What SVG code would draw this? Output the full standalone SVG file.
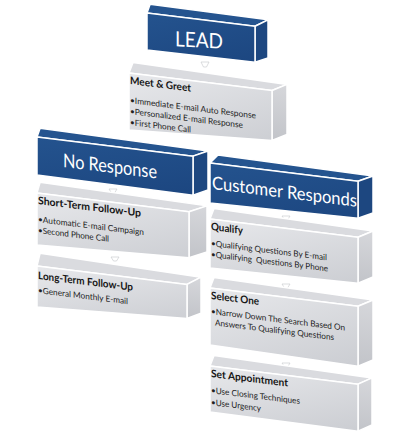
<svg xmlns="http://www.w3.org/2000/svg" width="400" height="440" viewBox="0 0 400 440">
<defs>
<linearGradient id="gg" x1="0" y1="0" x2="1" y2="1">
<stop offset="0" stop-color="#e7e8eb"/>
<stop offset="1" stop-color="#cbcdd2"/>
</linearGradient>
<linearGradient id="gs" x1="0" y1="0" x2="0" y2="1">
<stop offset="0" stop-color="#d6d7db"/>
<stop offset="1" stop-color="#c2c4c9"/>
</linearGradient>
<linearGradient id="bg" x1="0" y1="0" x2="1" y2="1">
<stop offset="0" stop-color="#24538e"/>
<stop offset="1" stop-color="#1c4680"/>
</linearGradient>
</defs>
<style>
.bf{fill:url(#bg);stroke:#fff;stroke-width:1.5;stroke-linejoin:round}
.bt{fill:#25548f;stroke:#fff;stroke-width:1.5;stroke-linejoin:round}
.bs{fill:#1d4780;stroke:#fff;stroke-width:1.5;stroke-linejoin:round}
.gf{fill:url(#gg);stroke:#fff;stroke-width:1.5;stroke-linejoin:round}
.gt{fill:#dadbdf;stroke:#fff;stroke-width:1.5;stroke-linejoin:round}
.gsd{fill:url(#gs);stroke:#fff;stroke-width:1.5;stroke-linejoin:round}
.h{font-family:Lato,"Open Sans","Liberation Sans",sans-serif;font-weight:bold;font-size:10.5px;fill:#151515}
.b{font-family:Lato,"Open Sans","Liberation Sans",sans-serif;font-size:8.5px;fill:#222}
.w{font-family:Lato,"Open Sans","Liberation Sans",sans-serif;fill:#fff}
.notch{fill:#fff;stroke:#c4c6ca;stroke-width:0.6}
</style>

<g id="connectors">
<g transform="translate(205,65)"><path class="notch" d="M-4,-3 h8 l-2.5,5 h-3 z"/></g>
<g transform="translate(113,191)"><path class="notch" d="M-4,-2 h8 l-2.5,4 h-3 z"/></g>
<g transform="translate(115,259)"><path class="notch" d="M-4,-2 h8 l-2.5,4 h-3 z"/></g>
<g transform="translate(286,218)"><path class="notch" d="M-4,-2 h8 l-2.5,4 h-3 z"/></g>
<g transform="translate(286,286)"><path class="notch" d="M-4,-2 h8 l-2.5,4 h-3 z"/></g>
<g transform="translate(286,365)"><path class="notch" d="M-4,-2 h8 l-2.5,4 h-3 z"/></g>
</g>

<g id="meet-greet">
<g transform="translate(129,73) skewY(7)">
<polygon class="gt" points="0,0 4,-11 158,-8 143,0"/>
<polygon class="gsd" points="143,0 158,-8 158,42 143,50"/>
<polygon class="gf" points="0,0 143,0 143,50 0,57"/>
<text class="h" x="1" y="11" textLength="61" lengthAdjust="spacingAndGlyphs">Meet &amp; Greet</text>
<text class="b" x="1" y="30" textLength="126" lengthAdjust="spacingAndGlyphs">•Immediate E-mail Auto Response</text>
<text class="b" x="1" y="41" textLength="113" lengthAdjust="spacingAndGlyphs">•Personalized E-mail Response</text>
<text class="b" x="1" y="52" textLength="61" lengthAdjust="spacingAndGlyphs">•First Phone Call</text>
</g>
</g>

<g id="lead">
<g transform="translate(147,13) skewY(7)">
<polygon class="bt" points="0,0 3,-9 121,-8 108,0"/>
<polygon class="bs" points="108,0 121,-8 121,30 108,36"/>
<polygon class="bf" points="0,0 108,0 108,36 0,37"/>
</g>
<text class="w" font-size="21" text-anchor="middle" transform="translate(199,47.5) skewY(3)" textLength="48" lengthAdjust="spacingAndGlyphs">LEAD</text>
</g>

<g id="short-term">
<g transform="translate(37,193) skewY(7)">
<polygon class="gt" points="0,0 3,-11 170,-8 152,0"/>
<polygon class="gsd" points="152,0 170,-8 170,38 152,46"/>
<polygon class="gf" points="0,0 152,0 152,46 0,52"/>
<text class="h" x="1" y="11" textLength="103" lengthAdjust="spacingAndGlyphs">Short-Term Follow-Up</text>
<text class="b" x="1" y="29" textLength="106" lengthAdjust="spacingAndGlyphs">•Automatic E-mail Campaign</text>
<text class="b" x="1" y="40" textLength="71" lengthAdjust="spacingAndGlyphs">•Second Phone Call</text>
</g>
</g>

<g id="long-term">
<g transform="translate(37,266) skewY(7)">
<polygon class="gt" points="0,0 3,-13 164,-9 150,0"/>
<polygon class="gsd" points="150,0 164,-9 164,27 150,34"/>
<polygon class="gf" points="0,0 150,0 150,34 0,41"/>
<text class="h" x="1" y="13" textLength="95" lengthAdjust="spacingAndGlyphs">Long-Term Follow-Up</text>
<text class="b" x="1" y="27" textLength="90" lengthAdjust="spacingAndGlyphs">•General Monthly E-mail</text>
</g>
</g>

<g id="no-response">
<g transform="translate(37,137) skewY(7)">
<polygon class="bt" points="0,0 3,-9 171,-7 156,0"/>
<polygon class="bs" points="156,0 171,-7 171,32 156,39"/>
<polygon class="bf" points="0,0 156,0 156,39 0,38"/>
<text class="w" font-size="19" x="26" y="26.8" textLength="94" lengthAdjust="spacingAndGlyphs">No Response</text>
</g>
</g>

<g id="qualify">
<g transform="translate(210,219) skewY(7)">
<polygon class="gt" points="0,0 4,-11 163,-8 148,0"/>
<polygon class="gsd" points="148,0 163,-8 163,38 148,46"/>
<polygon class="gf" points="0,0 148,0 148,46 0,49"/>
<text class="h" x="1" y="11" textLength="32" lengthAdjust="spacingAndGlyphs">Qualify</text>
<text class="b" x="1" y="27" textLength="116" lengthAdjust="spacingAndGlyphs">•Qualifying Questions By E-mail</text>
<text class="b" x="1" y="38" textLength="117" lengthAdjust="spacingAndGlyphs" xml:space="preserve">•Qualifying  Questions By Phone</text>
</g>
</g>

<g id="select-one">
<g transform="translate(210,288) skewY(7)">
<polygon class="gt" points="0,0 4,-11 163,-8 148,0"/>
<polygon class="gsd" points="148,0 163,-8 163,52 148,60"/>
<polygon class="gf" points="0,0 148,0 148,60 0,57"/>
<text class="h" x="1" y="11" textLength="48" lengthAdjust="spacingAndGlyphs">Select One</text>
<text class="b" x="1" y="26" textLength="134" lengthAdjust="spacingAndGlyphs">•Narrow Down The Search Based On</text>
<text class="b" x="5" y="37" textLength="119" lengthAdjust="spacingAndGlyphs">Answers To Qualifying Questions</text>
</g>
</g>

<g id="set-appointment">
<g transform="translate(210,366) skewY(7)">
<polygon class="gt" points="0,0 4,-11 162,-8 148,0"/>
<polygon class="gsd" points="148,0 162,-8 162,39 148,47"/>
<polygon class="gf" points="0,0 148,0 148,47 0,46"/>
<text class="h" x="1" y="11" textLength="77" lengthAdjust="spacingAndGlyphs">Set Appointment</text>
<text class="b" x="1" y="27" textLength="89" lengthAdjust="spacingAndGlyphs">•Use Closing Techniques</text>
<text class="b" x="1" y="39" textLength="50" lengthAdjust="spacingAndGlyphs">•Use Urgency</text>
</g>
</g>

<g id="customer-responds">
<g transform="translate(210,163) skewY(7)">
<polygon class="bt" points="0,0 8,-9 163,-7 148,0"/>
<polygon class="bs" points="148,0 163,-7 163,30 148,37"/>
<polygon class="bf" points="0,0 148,0 148,37 0,40"/>
<text class="w" font-size="18" x="2" y="25.8" textLength="145" lengthAdjust="spacingAndGlyphs">Customer Responds</text>
</g>
</g>
</svg>
